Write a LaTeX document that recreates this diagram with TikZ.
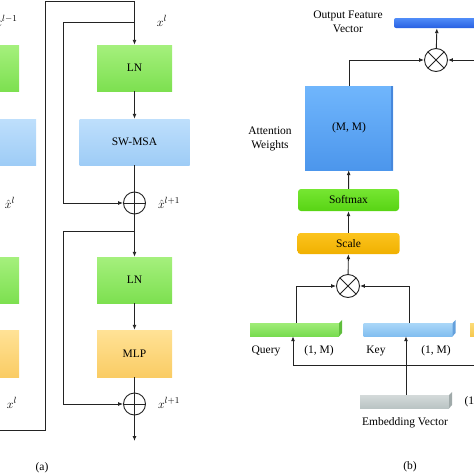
\documentclass[tikz,border=0pt]{standalone}
\usepackage{fontspec}
\setmainfont{Liberation Serif}
\usetikzlibrary{positioning,arrows.meta}

\definecolor{wiregray}{RGB}{35,35,35}
\definecolor{lntop}{RGB}{165,240,125}
\definecolor{lnbot}{RGB}{125,224,80}
\definecolor{swtop}{RGB}{190,223,252}
\definecolor{swbot}{RGB}{158,204,246}
\definecolor{mlptop}{RGB}{255,226,150}
\definecolor{mlpbot}{RGB}{250,204,100}
\definecolor{atttop}{RGB}{112,182,252}
\definecolor{attbot}{RGB}{76,150,236}
\definecolor{attside}{RGB}{70,135,220}
\definecolor{smtop}{RGB}{118,230,50}
\definecolor{smbot}{RGB}{88,212,20}
\definecolor{sctop}{RGB}{252,196,30}
\definecolor{scbot}{RGB}{240,176,0}
\definecolor{qtop}{RGB}{160,236,120}
\definecolor{qbot}{RGB}{120,220,80}
\definecolor{qside}{RGB}{95,190,60}
\definecolor{ktop}{RGB}{170,215,248}
\definecolor{kbot}{RGB}{130,190,240}
\definecolor{kside}{RGB}{100,160,220}
\definecolor{vtop}{RGB}{252,220,120}
\definecolor{vbot}{RGB}{246,200,80}
\definecolor{vside}{RGB}{220,170,50}
\definecolor{etop}{RGB}{212,218,218}
\definecolor{ebot}{RGB}{186,196,196}
\definecolor{eside}{RGB}{160,170,170}
\definecolor{otop}{RGB}{80,140,248}
\definecolor{obot}{RGB}{40,96,226}

% side face of a flat 3D bar
\newcommand{\barside}[2]{\fill[#2] (#1.north east) -- ++(3,-3) -- ++(0,13) -- (#1.south east) -- cycle;}

\begin{document}
\begin{tikzpicture}[x=1pt,y=-1pt,font=\fontsize{11.5}{13.5}\selectfont,
	>={Latex[length=5pt,width=4pt]},
	wire/.style={draw=wiregray,line width=0.9pt},
	mathlbl/.style={font=\fontsize{13}{15}\selectfont},
	box/.style={inner sep=0pt,minimum height=46pt},
	lnbox/.style={box,minimum width=75pt,top color=lntop,bottom color=lnbot},
	swbox/.style={box,minimum width=110pt,top color=swtop,bottom color=swbot},
	mlpbox/.style={box,minimum width=75pt,minimum height=47pt,top color=mlptop,bottom color=mlpbot},
	attbox/.style={inner sep=0pt,minimum width=88pt,minimum height=84pt,top color=atttop,bottom color=attbot},
	flatbox/.style={inner sep=0pt,rounded corners=3pt,minimum width=101pt,minimum height=22pt},
	vecbar/.style={inner sep=0pt,minimum width=89pt,minimum height=13pt},
	plus/.style={circle,wire,minimum size=22pt,inner sep=0pt,path picture={
		\draw[wiregray,line width=0.9pt] (path picture bounding box.north) -- (path picture bounding box.south)
		(path picture bounding box.west) -- (path picture bounding box.east);}},
	times/.style={circle,wire,minimum size=23pt,inner sep=0pt,path picture={
		\draw[wiregray,line width=0.9pt] (path picture bounding box.north west) -- (path picture bounding box.south east)
		(path picture bounding box.north east) -- (path picture bounding box.south west);}}]

	\useasboundingbox (0,0) rectangle (474,474);
	\clip (0,0) rectangle (474,474);

	% (a) previous block, cut off at the left
	\fill[top color=lntop,bottom color=lnbot] (0,45) rectangle (19,91);
	\fill[top color=swtop,bottom color=swbot] (0,119) rectangle (36,165);
	\fill[top color=lntop,bottom color=lnbot] (0,257) rectangle (19,303);
	\fill[top color=mlptop,bottom color=mlpbot] (0,330) rectangle (19,377);
	\node[mathlbl,anchor=west] (xprev) at (-8,21) {$x^{l-1}$};
	\node[mathlbl] (xhatprev) at (10,203) {$\hat{x}^{l}$};
	\node[mathlbl] (xprevout) at (12,403) {$x^{l}$};

	% (a) swin block
	\node[lnbox] (ln1) at (134.5,68) {LN};
	\node[swbox] (sw) [below of=ln1, node distance=74pt] {SW-MSA};
	\node[plus] (add1) [below of=sw, node distance=61pt] {};
	\node[lnbox] (ln2) [below of=add1, node distance=77pt] {LN};
	\node[mlpbox] (mlp) [below of=ln2, node distance=73.5pt] {MLP};
	\node[plus] (add2) [below of=mlp, node distance=50.5pt] {};
	\coordinate[below of=add2, node distance=37pt] (out);

	\coordinate (botl) at (0,430);
	\coordinate (botm) at (45,430);
	\coordinate (topl) at (45,1);
	\coordinate (topr) at (134.5,1);
	\coordinate (br1) at (134.5,22);
	\coordinate (br2) at (134.5,231);

	\draw[wire] (botl) -- (botm) -- (topl) -- (topr);
	\draw[wire,->] (topr) -- (ln1);
	\draw[wire,->] (ln1) -- (sw);
	\draw[wire] (sw) -- (add1);
	\draw[wire,->] (add1) -- (ln2);
	\draw[wire,->] (ln2) -- (mlp);
	\draw[wire] (mlp) -- (add2);
	\draw[wire,->] (add2) -- (out);
	\draw[wire,->] (br1) -- ++(-71.5,0) |- (add1);
	\draw[wire,->] (br2) -- ++(-71.5,0) |- (add2);

	\node[mathlbl] (xl) at (162,21) {$x^{l}$};
	\node[mathlbl] (xhat) at (169,203) {$\hat{x}^{l+1}$};
	\node[mathlbl] (xnext) at (169,403) {$x^{l+1}$};
	\node (alabel) at (42,468) {(a)};

	% (b) attention
	\node[vecbar,rounded corners=2pt,minimum width=86pt,minimum height=10pt,top color=otop,bottom color=obot] (outvec) at (437,23) {};
	\node[times] (mul1) at (436,60) {};
	\node[attbox] (att) at (349,128) {(M, M)};
	\fill[attside] ([xshift=-2pt]att.north east) rectangle (att.south east);
	\node[flatbox,top color=smtop,bottom color=smbot] (softmax) at (348.5,200) {Softmax};
	\node[flatbox,minimum width=102pt,minimum height=21pt,top color=sctop,bottom color=scbot] (scale) [below of=softmax, node distance=43.5pt] {Scale};
	\node[times] (mul2) at (348,286) {};

	\node[vecbar,top color=qtop,bottom color=qbot] (query) at (294.5,329.5) {};
	\node[vecbar,top color=ktop,bottom color=kbot] (key) at (408,329.5) {};
	\node[vecbar,top color=vtop,bottom color=vbot] (value) at (514.5,329.5) {};
	\node[vecbar,top color=etop,bottom color=ebot] (emb) at (404.5,401.5) {};
	\barside{query}{qside}
	\barside{key}{kside}
	\barside{emb}{eside}

	\node[align=center] (outlbl) at (348,22) {Output Feature\\Vector};
	\node[align=center] (attlbl) at (270,139) {Attention\\Weights};
	\node (qlbl) at (266,351) {Query};
	\node (qdim) at (319,351) {(1, M)};
	\node (klbl) at (376,351) {Key};
	\node (kdim) at (436,351) {(1, M)};
	\node[anchor=west] (edim) at (461,402) {(1, M)};
	\node (elbl) at (405,423) {Embedding Vector};
	\node (blabel) at (410,467) {(b)};

	\coordinate (vin) at (480,60);
	\coordinate (fanr) at (480,365);

	\draw[wire,->] (att.north) |- (mul1);
	\draw[wire,->] (vin) -- (mul1);
	\draw[wire,->] (mul1) -- (outvec);
	\draw[wire,->] (softmax) -- (att);
	\draw[wire,->] (scale) -- (softmax);
	\draw[wire,->] (mul2) -- (scale);
	\draw[wire,->] ([xshift=1.5pt]query.north) |- (mul2);
	\draw[wire,->] ([xshift=1pt]key.north) |- (mul2);
	\draw[wire,->] (fanr) -| ([xshift=-1.5pt]query.south);
	\draw[wire,->] ([xshift=1.5pt]emb.north) -- ([xshift=-2pt]key.south);

\end{tikzpicture}
\end{document}
